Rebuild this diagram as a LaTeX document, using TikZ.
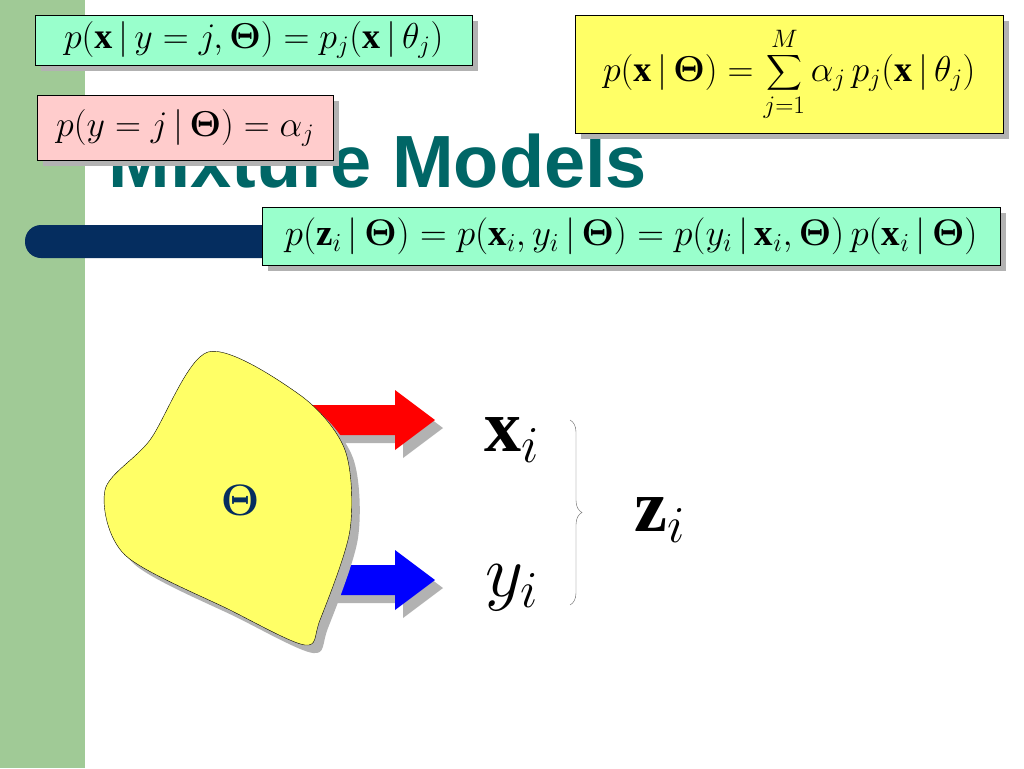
\RequirePackage{fix-cm}
\documentclass[tikz,border=0pt]{standalone}
\usepackage{amsmath}
\usepackage{fontspec}
\setmainfont{Liberation Serif}
\newfontfamily\titlefont{Liberation Sans}
\usetikzlibrary{decorations.pathreplacing}
\definecolor{barGreen}{RGB}{160,202,150}
\definecolor{barBlue}{RGB}{5,45,95}
\definecolor{titleTeal}{RGB}{0,102,102}
\definecolor{aqua}{RGB}{153,255,204}
\definecolor{lemon}{RGB}{255,255,102}
\definecolor{rosy}{RGB}{255,204,204}
\tikzset{
  formula/.style={draw, thin, inner sep=1pt, anchor=north west,
    font=\fontsize{36}{40}\selectfont},
  shadow/.style={fill=gray!60, draw=none},
  bigsym/.style={font=\fontsize{74}{80}\selectfont}
}
\begin{document}
\begin{tikzpicture}[x=1pt,y=-1pt]
  \useasboundingbox (0,0) rectangle (1024,768);
  \fill[white] (0,0) rectangle (1024,768);
  \fill[barGreen] (0,0) rectangle (85,768);
  \fill[barBlue, rounded corners=16pt] (25,225) rectangle (300,258);
  \node[anchor=base west, text=titleTeal, font=\titlefont\bfseries\fontsize{74}{80}\selectfont] (title) at (105,187) {Mixture Models};

  % formula boxes
  \fill[shadow] (41,21) rectangle (478,71);
  \node[formula, fill=aqua, minimum width=437pt, minimum height=50pt] (joint) at (35,15)
    {$p(\mathbf{x}\,|\,y=j,\boldsymbol{\Theta})=p_j(\mathbf{x}\,|\,\theta_j)$};
  \fill[shadow] (581,21) rectangle (1009,139);
  \node[formula, fill=lemon, minimum width=428pt, minimum height=118pt] (mix) at (575,15)
    {$p(\mathbf{x}\,|\,\boldsymbol{\Theta})=\displaystyle\sum_{j=1}^{M}\alpha_j\,p_j(\mathbf{x}\,|\,\theta_j)$};
  \fill[shadow] (43,101) rectangle (339,166);
  \node[formula, fill=rosy, minimum width=296pt, minimum height=65pt] (prior) at (37,95)
    {$p(y=j\,|\,\boldsymbol{\Theta})=\alpha_j$};
  \fill[shadow] (268,213) rectangle (1006,271);
  \node[formula, fill=aqua, minimum width=738pt, minimum height=58pt, font=\fontsize{37}{40}\selectfont] (complete) at (262,207)
    {$p(\mathbf{z}_i\,|\,\boldsymbol{\Theta})=p(\mathbf{x}_i,y_i\,|\,\boldsymbol{\Theta})=p(y_i\,|\,\mathbf{x}_i,\boldsymbol{\Theta})\,p(\mathbf{x}_i\,|\,\boldsymbol{\Theta})$};

  % arrows
  \foreach \yc/\col in {420/red, 580/blue} {
    \fill[gray!60, shift={(8,8)}] (300,\yc-15) -- (395,\yc-15) -- (395,\yc-30) -- (435,\yc) -- (395,\yc+30) -- (395,\yc+15) -- (300,\yc+15) -- cycle;
    \fill[\col] (300,\yc-15) -- (395,\yc-15) -- (395,\yc-30) -- (435,\yc) -- (395,\yc+30) -- (395,\yc+15) -- (300,\yc+15) -- cycle;
  }

  % parameter blob
  \fill[gray!60, shift={(8,8)}] plot[smooth cycle, tension=0.5] coordinates
    {(208,352) (300,395) (345,450) (350,530) (320,620) (305,645) (230,610) (125,555) (105,490) (150,440)};
  \draw[fill=lemon] plot[smooth cycle, tension=0.5] coordinates
    {(208,352) (300,395) (345,450) (350,530) (320,620) (305,645) (230,610) (125,555) (105,490) (150,440)};
  \node[font=\fontsize{44}{48}\selectfont, text=barBlue] (theta) at (240,500) {$\boldsymbol{\Theta}$};

  % outputs
  \node[bigsym] (x) at (512,440) {$\mathbf{x}_i$};
  \node[bigsym] (y) at (512,588) {$y_i$};
  \draw[decorate, decoration={brace, amplitude=12pt}, gray!80!black] (570,420) -- (570,605);
  \node[bigsym] (z) at (660,520) {$\mathbf{z}_i$};
\end{tikzpicture}
\end{document}
